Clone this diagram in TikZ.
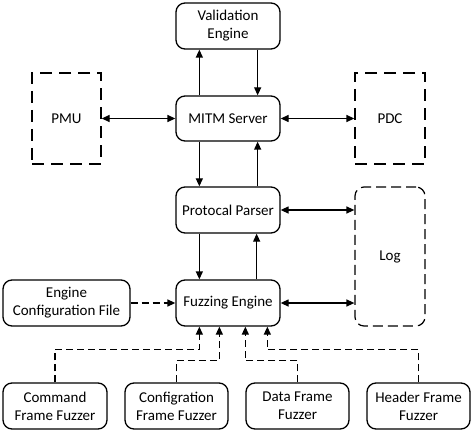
\documentclass[tikz,border=0pt]{standalone}
\usepackage{fontspec}
\setmainfont{Carlito}
\usetikzlibrary{arrows.meta,calc}
\begin{document}
\begin{tikzpicture}[x=1pt,y=-1pt,
  box/.style={draw,line width=1.3pt,rounded corners=9pt,align=center,inner sep=0pt,
    minimum width=104pt,minimum height=46pt,font=\fontsize{15}{18}\selectfont},
  dbox/.style={box,line width=1.2pt,dash pattern=on 10pt off 5pt},
  sbox/.style={box,line width=1.3pt,rounded corners=0pt,dash pattern=on 12pt off 7pt},
  arr/.style={line width=1.3pt,-{Triangle[length=8pt,width=7pt]}},
  barr/.style={line width=1.3pt,{Triangle[length=8pt,width=7pt]}-{Triangle[length=8pt,width=7pt]}},
  darr/.style={arr,dash pattern=on 7pt off 4pt}]
\useasboundingbox (0,0) rectangle (474,433);
\node[box] (val) at (228,26) {Validation\\Engine};
\node[box,minimum height=45pt] (mitm) at (228,118.5) {MITM Server};
\node[sbox,minimum width=69pt,minimum height=91pt] (pmu) at (66.5,118.5) {PMU};
\node[sbox,minimum width=70pt,minimum height=91pt] (pdc) at (390,118.5) {PDC};
\node[box] (par) at (228,210) {Protocal Parser};
\node[dbox,minimum width=70pt,minimum height=139pt] (log) at (390,256.5) {Log};
\node[box] (fuz) at (228,303) {Fuzzing Engine};
\node[box,minimum width=127pt] (cfg) at (66.5,303) {Engine\\Configuration File};
\node[box] (cmd) at (55,406) {Command\\Frame Fuzzer};
\node[box,minimum width=103pt] (cnf) at (176.5,406) {Configration\\Frame Fuzzer};
\node[box,minimum width=103pt] (dat) at (297.5,406) {Data Frame\\Fuzzer};
\node[box,minimum width=103pt] (hdr) at (418.5,406) {Header Frame\\Fuzzer};
% vertical pairs
\draw[arr] ([xshift=24pt]mitm.north west) -- ([xshift=24pt]val.south west);
\draw[arr] ([xshift=-23pt]val.south east) -- ([xshift=-23pt]mitm.north east);
\draw[arr] ([xshift=24pt]mitm.south west) -- ([xshift=24pt]par.north west);
\draw[arr] ([xshift=-23pt]par.north east) -- ([xshift=-23pt]mitm.south east);
\draw[arr] ([xshift=24pt]par.south west) -- ([xshift=24pt]fuz.north west);
\draw[arr] ([xshift=-24pt]fuz.north east) -- ([xshift=-24pt]par.south east);
% horizontal
\draw[barr] (pmu.east) -- (mitm.west);
\draw[barr] (mitm.east) -- (pdc.west);
\draw[barr] (par.east) -- (log.west |- par.east);
\draw[barr] (fuz.east) -- (log.west |- fuz.east);
\draw[darr] (cfg.east) -- (fuz.west);
% fuzzers
\draw[darr] (cmd.north) |- ($(fuz.south west)+(24,23)$) -- ([xshift=24pt]fuz.south west);
\draw[darr] (cnf.north) |- ($(fuz.south west)+(44,34)$) -- ([xshift=44pt]fuz.south west);
\draw[darr] (dat.north) |- ($(fuz.south west)+(70,34)$) -- ([xshift=70pt]fuz.south west);
\draw[darr] (hdr.north) |- ($(fuz.south west)+(92,23)$) -- ([xshift=92pt]fuz.south west);
\end{tikzpicture}
\end{document}
